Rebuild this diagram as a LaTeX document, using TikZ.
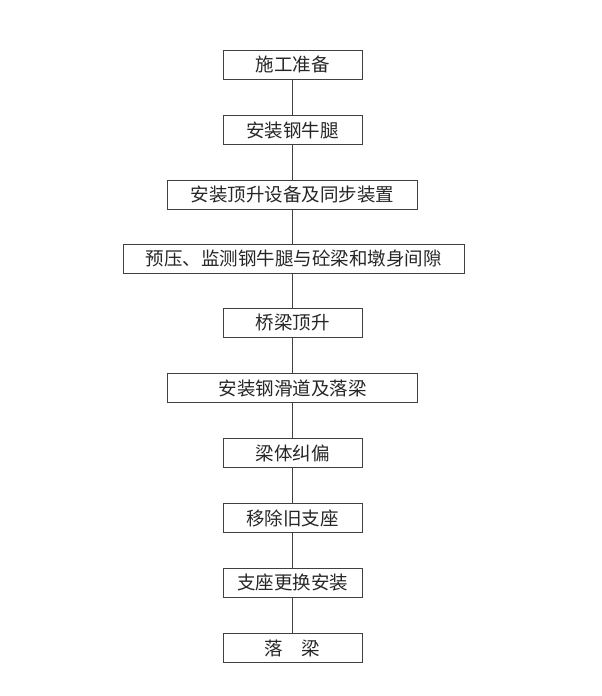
\documentclass[tikz,border=0pt]{standalone}
\usepackage{fontspec}
\newfontfamily\cjk{Noto Sans CJK SC}
\begin{document}
\begin{tikzpicture}[x=1pt,y=-1pt,
  stepbox/.style={draw=black!75,line width=1pt,minimum height=29pt,inner sep=0pt,font=\cjk\fontsize{18.5}{20}\selectfont,text=black!85},
  sbox/.style={stepbox,minimum width=139pt},
  mbox/.style={stepbox,minimum width=250pt},
  lbox/.style={stepbox,minimum width=341pt},
  link/.style={draw=black!75,line width=1pt}]
\useasboundingbox (0,0) rectangle (602,696);
\node[sbox] (n1) at (292.5,64.5) {施工准备};
\node[sbox] (n2) at (292.5,130) {安装钢牛腿};
\node[mbox] (n3) at (292.5,194.5) {安装顶升设备及同步装置};
\node[lbox] (n4) at (293.5,259) {预压、监测钢牛腿与砼梁和墩身间隙};
\node[sbox] (n5) at (292.5,323) {桥梁顶升};
\node[mbox] (n6) at (292.5,388) {安装钢滑道及落梁};
\node[sbox] (n7) at (292.5,453) {梁体纠偏};
\node[sbox] (n8) at (292.5,518) {移除旧支座};
\node[sbox] (n9) at (292.5,582.5) {支座更换安装};
\node[sbox] (n10) at (292.5,648) {落　梁};
\draw[link] (n1.south) -- (n2.north);
\draw[link] (n2.south) -- (n3.north);
\draw[link] (n3.south) -- (n4.north -| n3.south);
\draw[link] (n4.south -| n5.north) -- (n5.north);
\draw[link] (n5.south) -- (n6.north);
\draw[link] (n6.south) -- (n7.north);
\draw[link] (n7.south) -- (n8.north);
\draw[link] (n8.south) -- (n9.north);
\draw[link] (n9.south) -- (n10.north);
\end{tikzpicture}
\end{document}
